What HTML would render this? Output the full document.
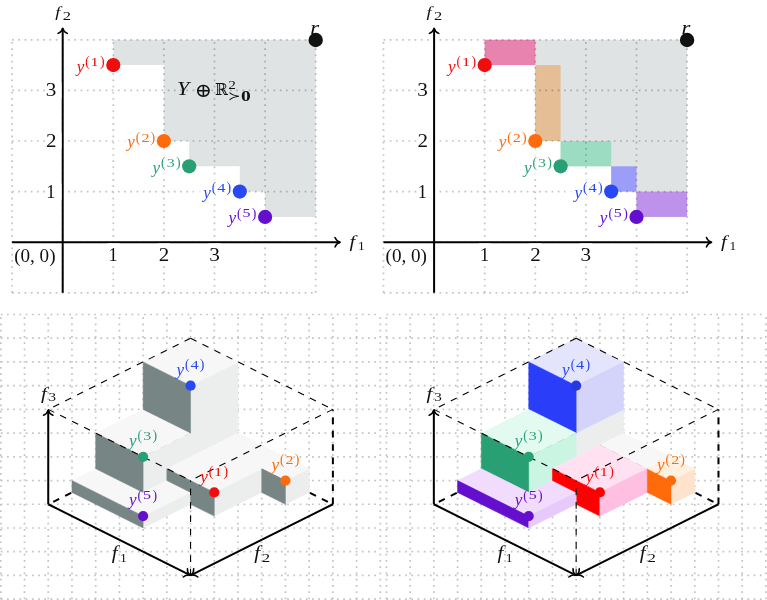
<!DOCTYPE html>
<html lang="en"><head><meta charset="utf-8"><title>Hypervolume contributions</title>
<style>html,body{margin:0;padding:0;background:#fff;overflow:hidden;}svg{display:block;}</style></head>
<body>
<svg width="767" height="600" viewBox="0 0 767 600">
<rect width="767" height="600" fill="#fff"/>
<polygon points="113.30,65.10 113.30,39.80 315.70,39.80 315.70,216.90 265.10,216.90 265.10,191.60 239.80,191.60 239.80,166.30 189.20,166.30 189.20,141.00 163.90,141.00 163.90,65.10" fill="#dfe3e3"/>
<g style="mix-blend-mode:multiply">
<line x1="12.10" y1="292.80" x2="12.10" y2="39.80" stroke="#c3c3c3" stroke-width="1.7" stroke-dasharray="1.7 4.525"/>
<line x1="62.70" y1="292.80" x2="62.70" y2="39.80" stroke="#c3c3c3" stroke-width="1.7" stroke-dasharray="1.7 4.525"/>
<line x1="113.30" y1="292.80" x2="113.30" y2="39.80" stroke="#c3c3c3" stroke-width="1.7" stroke-dasharray="1.7 4.525"/>
<line x1="163.90" y1="292.80" x2="163.90" y2="39.80" stroke="#c3c3c3" stroke-width="1.7" stroke-dasharray="1.7 4.525"/>
<line x1="214.50" y1="292.80" x2="214.50" y2="39.80" stroke="#c3c3c3" stroke-width="1.7" stroke-dasharray="1.7 4.525"/>
<line x1="265.10" y1="292.80" x2="265.10" y2="39.80" stroke="#c3c3c3" stroke-width="1.7" stroke-dasharray="1.7 4.525"/>
<line x1="315.70" y1="292.80" x2="315.70" y2="39.80" stroke="#c3c3c3" stroke-width="1.7" stroke-dasharray="1.7 4.525"/>
<line x1="12.10" y1="292.80" x2="315.70" y2="292.80" stroke="#c3c3c3" stroke-width="1.7" stroke-dasharray="1.7 4.525"/>
<line x1="12.10" y1="242.20" x2="315.70" y2="242.20" stroke="#c3c3c3" stroke-width="1.7" stroke-dasharray="1.7 4.525"/>
<line x1="12.10" y1="191.60" x2="315.70" y2="191.60" stroke="#c3c3c3" stroke-width="1.7" stroke-dasharray="1.7 4.525"/>
<line x1="12.10" y1="141.00" x2="315.70" y2="141.00" stroke="#c3c3c3" stroke-width="1.7" stroke-dasharray="1.7 4.525"/>
<line x1="12.10" y1="90.40" x2="315.70" y2="90.40" stroke="#c3c3c3" stroke-width="1.7" stroke-dasharray="1.7 4.525"/>
<line x1="12.10" y1="39.80" x2="315.70" y2="39.80" stroke="#c3c3c3" stroke-width="1.7" stroke-dasharray="1.7 4.525"/>
</g>
<line x1="12.10" y1="242.20" x2="340.00" y2="242.20" stroke="#000" stroke-width="2"/>
<path d="M -5.20 -4.70 C -4.16 -1.97 -1.82 -0.47 0 0 C -1.82 0.47 -4.16 1.97 -5.20 4.70" transform="translate(340.80 242.20) rotate(0.00) translate(-0.6 0)" fill="none" stroke="#000" stroke-width="1.5" stroke-linecap="round" stroke-linejoin="round"/>
<line x1="62.70" y1="292.80" x2="62.70" y2="28.40" stroke="#000" stroke-width="2"/>
<path d="M -5.20 -4.70 C -4.16 -1.97 -1.82 -0.47 0 0 C -1.82 0.47 -4.16 1.97 -5.20 4.70" transform="translate(62.70 27.60) rotate(-90.00) translate(-0.6 0)" fill="none" stroke="#000" stroke-width="1.5" stroke-linecap="round" stroke-linejoin="round"/>
<text transform="translate(55.19 17.34) scale(1.180 1)" fill="#111" font-family='"Liberation Serif", serif' font-size="15.52" font-style="italic">f</text>
<text transform="translate(62.66 19.80) scale(1.328 1)" fill="#111" font-family='"Liberation Serif", serif' font-size="12.42">2</text>
<text transform="translate(349.62 246.73) scale(1.180 1)" fill="#111" font-family='"Liberation Serif", serif' font-size="17.49" font-style="italic">f</text>
<text transform="translate(358.09 249.60) scale(1.173 1)" fill="#111" font-family='"Liberation Serif", serif' font-size="11.45">1</text>
<rect x="107.30" y="243.40" width="12" height="22" fill="#fff"/>
<rect x="45.70" y="183.60" width="15.8" height="16" fill="#fff"/>
<text transform="translate(108.55 261.20) scale(0.990 1)" fill="#111" font-family='"Liberation Serif", serif' font-size="18.47">1</text>
<text transform="translate(46.30 197.70) scale(0.998 1)" fill="#111" font-family='"Liberation Serif", serif' font-size="18.32">1</text>
<rect x="157.90" y="243.40" width="12" height="22" fill="#fff"/>
<rect x="45.70" y="133.00" width="15.8" height="16" fill="#fff"/>
<text transform="translate(158.86 261.20) scale(1.145 1)" fill="#111" font-family='"Liberation Serif", serif' font-size="18.33">2</text>
<text transform="translate(46.01 147.10) scale(1.155 1)" fill="#111" font-family='"Liberation Serif", serif' font-size="18.18">2</text>
<rect x="208.50" y="243.40" width="12" height="22" fill="#fff"/>
<rect x="45.70" y="82.40" width="15.8" height="16" fill="#fff"/>
<text transform="translate(209.19 261.02) scale(1.175 1)" fill="#111" font-family='"Liberation Serif", serif' font-size="18.06">3</text>
<text transform="translate(45.74 96.32) scale(1.185 1)" fill="#111" font-family='"Liberation Serif", serif' font-size="17.91">3</text>
<text transform="translate(14.14 262.11) scale(1.007 1)" fill="#111" font-family='"Liberation Serif", serif' font-size="19.00">(0, 0)</text>
<rect x="67.30" y="52.60" width="40" height="24.5" rx="2" fill="#fff" fill-opacity="0.65"/>
<circle cx="113.30" cy="65.10" r="7.1" fill="#f00d0d"/>
<g><text transform="translate(76.66 71.51) scale(0.975 1)" fill="#f00d0d" font-family='"Liberation Serif", serif' font-size="17.61" font-style="italic">y</text><text transform="translate(85.20 65.97) scale(0.896 1)" fill="#f00d0d" font-family='"Liberation Serif", serif' font-size="14.89">(</text><text transform="translate(90.49 65.70) scale(1.300 1)" fill="#f00d0d" font-family='"Liberation Serif", serif' font-size="12.52">1</text><text transform="translate(99.98 65.97) scale(0.930 1)" fill="#f00d0d" font-family='"Liberation Serif", serif' font-size="14.89">)</text></g>
<rect x="117.90" y="128.50" width="40" height="24.5" rx="2" fill="#fff" fill-opacity="0.65"/>
<circle cx="163.90" cy="141.00" r="7.1" fill="#ff6a0a"/>
<g><text transform="translate(127.26 147.41) scale(0.975 1)" fill="#ff6a0a" font-family='"Liberation Serif", serif' font-size="17.61" font-style="italic">y</text><text transform="translate(135.80 141.87) scale(0.896 1)" fill="#ff6a0a" font-family='"Liberation Serif", serif' font-size="14.89">(</text><text transform="translate(141.44 141.60) scale(1.300 1)" fill="#ff6a0a" font-family='"Liberation Serif", serif' font-size="12.42">2</text><text transform="translate(150.58 141.87) scale(0.930 1)" fill="#ff6a0a" font-family='"Liberation Serif", serif' font-size="14.89">)</text></g>
<rect x="143.20" y="153.80" width="40" height="24.5" rx="2" fill="#fff" fill-opacity="0.65"/>
<circle cx="189.20" cy="166.30" r="7.1" fill="#28a073"/>
<g><text transform="translate(152.56 172.71) scale(0.975 1)" fill="#28a073" font-family='"Liberation Serif", serif' font-size="17.61" font-style="italic">y</text><text transform="translate(161.10 167.17) scale(0.896 1)" fill="#28a073" font-family='"Liberation Serif", serif' font-size="14.89">(</text><text transform="translate(166.64 166.78) scale(1.300 1)" fill="#28a073" font-family='"Liberation Serif", serif' font-size="12.24">3</text><text transform="translate(175.88 167.17) scale(0.930 1)" fill="#28a073" font-family='"Liberation Serif", serif' font-size="14.89">)</text></g>
<rect x="193.80" y="179.10" width="40" height="24.5" rx="2" fill="#fff" fill-opacity="0.65"/>
<circle cx="239.80" cy="191.60" r="7.1" fill="#2748f2"/>
<g><text transform="translate(203.16 198.01) scale(0.975 1)" fill="#2748f2" font-family='"Liberation Serif", serif' font-size="17.61" font-style="italic">y</text><text transform="translate(211.70 192.47) scale(0.896 1)" fill="#2748f2" font-family='"Liberation Serif", serif' font-size="14.89">(</text><text transform="translate(217.16 192.26) scale(1.300 1)" fill="#2748f2" font-family='"Liberation Serif", serif' font-size="12.62">4</text><text transform="translate(226.48 192.47) scale(0.930 1)" fill="#2748f2" font-family='"Liberation Serif", serif' font-size="14.89">)</text></g>
<rect x="219.10" y="204.40" width="40" height="24.5" rx="2" fill="#fff" fill-opacity="0.65"/>
<circle cx="265.10" cy="216.90" r="7.1" fill="#640fcd"/>
<g><text transform="translate(228.46 223.31) scale(0.975 1)" fill="#640fcd" font-family='"Liberation Serif", serif' font-size="17.61" font-style="italic">y</text><text transform="translate(237.00 217.77) scale(0.896 1)" fill="#640fcd" font-family='"Liberation Serif", serif' font-size="14.89">(</text><text transform="translate(242.43 217.38) scale(1.300 1)" fill="#640fcd" font-family='"Liberation Serif", serif' font-size="12.33">5</text><text transform="translate(251.78 217.77) scale(0.930 1)" fill="#640fcd" font-family='"Liberation Serif", serif' font-size="14.89">)</text></g>
<text transform="translate(310.19 33.59) scale(1.250 1)" fill="#111" font-family='"Liberation Serif", serif' font-size="18.28" font-style="italic">r</text>
<circle cx="315.70" cy="40.00" r="7.2" fill="#111"/>
<text transform="translate(176.88 94.90) scale(1.194 1)" fill="#111" font-family='"Liberation Serif", serif' font-size="18.46" font-style="italic">Y</text>
<text transform="translate(194.83 97.00) scale(1.049 1)" fill="#111" font-family='"DejaVu Serif", "DejaVu Sans", serif' font-size="19.68">⊕</text>
<text transform="translate(215.10 94.90) scale(0.947 1)" fill="#111" font-family='"DejaVu Serif", "DejaVu Sans", serif' font-size="16.44">ℝ</text>
<text transform="translate(228.31 88.50) scale(1.307 1)" fill="#111" font-family='"Liberation Serif", serif' font-size="11.67">2</text>
<text transform="translate(228.02 100.28) scale(1.244 1)" fill="#111" font-family='"DejaVu Serif", "DejaVu Sans", serif' font-size="12.09">≻</text>
<text transform="translate(241.02 100.75) scale(1.318 1)" fill="#111" font-family='"Liberation Serif", serif' font-size="14.81" font-weight="bold">0</text>
<polygon points="484.70,65.10 484.70,39.80 687.10,39.80 687.10,216.90 636.50,216.90 636.50,191.60 611.20,191.60 611.20,166.30 560.60,166.30 560.60,141.00 535.30,141.00 535.30,65.10" fill="#dfe3e3"/>
<rect x="484.70" y="39.80" width="50.60" height="25.30" fill="#e882af"/>
<rect x="535.30" y="65.10" width="25.30" height="75.90" fill="#e5be96"/>
<rect x="560.60" y="141.00" width="50.60" height="25.30" fill="#9bdcc3"/>
<rect x="611.20" y="166.30" width="25.30" height="25.30" fill="#9c9df8"/>
<rect x="636.50" y="191.60" width="50.60" height="25.30" fill="#be91eb"/>
<g style="mix-blend-mode:multiply">
<line x1="383.50" y1="292.80" x2="383.50" y2="39.80" stroke="#c3c3c3" stroke-width="1.7" stroke-dasharray="1.7 4.525"/>
<line x1="434.10" y1="292.80" x2="434.10" y2="39.80" stroke="#c3c3c3" stroke-width="1.7" stroke-dasharray="1.7 4.525"/>
<line x1="484.70" y1="292.80" x2="484.70" y2="39.80" stroke="#c3c3c3" stroke-width="1.7" stroke-dasharray="1.7 4.525"/>
<line x1="535.30" y1="292.80" x2="535.30" y2="39.80" stroke="#c3c3c3" stroke-width="1.7" stroke-dasharray="1.7 4.525"/>
<line x1="585.90" y1="292.80" x2="585.90" y2="39.80" stroke="#c3c3c3" stroke-width="1.7" stroke-dasharray="1.7 4.525"/>
<line x1="636.50" y1="292.80" x2="636.50" y2="39.80" stroke="#c3c3c3" stroke-width="1.7" stroke-dasharray="1.7 4.525"/>
<line x1="687.10" y1="292.80" x2="687.10" y2="39.80" stroke="#c3c3c3" stroke-width="1.7" stroke-dasharray="1.7 4.525"/>
<line x1="383.50" y1="292.80" x2="687.10" y2="292.80" stroke="#c3c3c3" stroke-width="1.7" stroke-dasharray="1.7 4.525"/>
<line x1="383.50" y1="242.20" x2="687.10" y2="242.20" stroke="#c3c3c3" stroke-width="1.7" stroke-dasharray="1.7 4.525"/>
<line x1="383.50" y1="191.60" x2="687.10" y2="191.60" stroke="#c3c3c3" stroke-width="1.7" stroke-dasharray="1.7 4.525"/>
<line x1="383.50" y1="141.00" x2="687.10" y2="141.00" stroke="#c3c3c3" stroke-width="1.7" stroke-dasharray="1.7 4.525"/>
<line x1="383.50" y1="90.40" x2="687.10" y2="90.40" stroke="#c3c3c3" stroke-width="1.7" stroke-dasharray="1.7 4.525"/>
<line x1="383.50" y1="39.80" x2="687.10" y2="39.80" stroke="#c3c3c3" stroke-width="1.7" stroke-dasharray="1.7 4.525"/>
</g>
<line x1="383.50" y1="242.20" x2="711.40" y2="242.20" stroke="#000" stroke-width="2"/>
<path d="M -5.20 -4.70 C -4.16 -1.97 -1.82 -0.47 0 0 C -1.82 0.47 -4.16 1.97 -5.20 4.70" transform="translate(712.20 242.20) rotate(0.00) translate(-0.6 0)" fill="none" stroke="#000" stroke-width="1.5" stroke-linecap="round" stroke-linejoin="round"/>
<line x1="434.10" y1="292.80" x2="434.10" y2="28.40" stroke="#000" stroke-width="2"/>
<path d="M -5.20 -4.70 C -4.16 -1.97 -1.82 -0.47 0 0 C -1.82 0.47 -4.16 1.97 -5.20 4.70" transform="translate(434.10 27.60) rotate(-90.00) translate(-0.6 0)" fill="none" stroke="#000" stroke-width="1.5" stroke-linecap="round" stroke-linejoin="round"/>
<text transform="translate(426.59 17.34) scale(1.180 1)" fill="#111" font-family='"Liberation Serif", serif' font-size="15.52" font-style="italic">f</text>
<text transform="translate(434.06 19.80) scale(1.328 1)" fill="#111" font-family='"Liberation Serif", serif' font-size="12.42">2</text>
<text transform="translate(721.02 246.73) scale(1.180 1)" fill="#111" font-family='"Liberation Serif", serif' font-size="17.49" font-style="italic">f</text>
<text transform="translate(729.49 249.60) scale(1.173 1)" fill="#111" font-family='"Liberation Serif", serif' font-size="11.45">1</text>
<rect x="478.70" y="243.40" width="12" height="22" fill="#fff"/>
<rect x="417.10" y="183.60" width="15.8" height="16" fill="#fff"/>
<text transform="translate(479.95 261.20) scale(0.990 1)" fill="#111" font-family='"Liberation Serif", serif' font-size="18.47">1</text>
<text transform="translate(417.70 197.70) scale(0.998 1)" fill="#111" font-family='"Liberation Serif", serif' font-size="18.32">1</text>
<rect x="529.30" y="243.40" width="12" height="22" fill="#fff"/>
<rect x="417.10" y="133.00" width="15.8" height="16" fill="#fff"/>
<text transform="translate(530.25 261.20) scale(1.145 1)" fill="#111" font-family='"Liberation Serif", serif' font-size="18.33">2</text>
<text transform="translate(417.41 147.10) scale(1.155 1)" fill="#111" font-family='"Liberation Serif", serif' font-size="18.18">2</text>
<rect x="579.90" y="243.40" width="12" height="22" fill="#fff"/>
<rect x="417.10" y="82.40" width="15.8" height="16" fill="#fff"/>
<text transform="translate(580.59 261.02) scale(1.175 1)" fill="#111" font-family='"Liberation Serif", serif' font-size="18.06">3</text>
<text transform="translate(417.14 96.32) scale(1.185 1)" fill="#111" font-family='"Liberation Serif", serif' font-size="17.91">3</text>
<text transform="translate(385.54 262.11) scale(1.007 1)" fill="#111" font-family='"Liberation Serif", serif' font-size="19.00">(0, 0)</text>
<rect x="438.70" y="52.60" width="40" height="24.5" rx="2" fill="#fff" fill-opacity="0.65"/>
<circle cx="484.70" cy="65.10" r="7.1" fill="#f00d0d"/>
<g><text transform="translate(448.06 71.51) scale(0.975 1)" fill="#f00d0d" font-family='"Liberation Serif", serif' font-size="17.61" font-style="italic">y</text><text transform="translate(456.60 65.97) scale(0.896 1)" fill="#f00d0d" font-family='"Liberation Serif", serif' font-size="14.89">(</text><text transform="translate(461.89 65.70) scale(1.300 1)" fill="#f00d0d" font-family='"Liberation Serif", serif' font-size="12.52">1</text><text transform="translate(471.38 65.97) scale(0.930 1)" fill="#f00d0d" font-family='"Liberation Serif", serif' font-size="14.89">)</text></g>
<rect x="489.30" y="128.50" width="40" height="24.5" rx="2" fill="#fff" fill-opacity="0.65"/>
<circle cx="535.30" cy="141.00" r="7.1" fill="#ff6a0a"/>
<g><text transform="translate(498.66 147.41) scale(0.975 1)" fill="#ff6a0a" font-family='"Liberation Serif", serif' font-size="17.61" font-style="italic">y</text><text transform="translate(507.20 141.87) scale(0.896 1)" fill="#ff6a0a" font-family='"Liberation Serif", serif' font-size="14.89">(</text><text transform="translate(512.84 141.60) scale(1.300 1)" fill="#ff6a0a" font-family='"Liberation Serif", serif' font-size="12.42">2</text><text transform="translate(521.98 141.87) scale(0.930 1)" fill="#ff6a0a" font-family='"Liberation Serif", serif' font-size="14.89">)</text></g>
<rect x="514.60" y="153.80" width="40" height="24.5" rx="2" fill="#fff" fill-opacity="0.65"/>
<circle cx="560.60" cy="166.30" r="7.1" fill="#28a073"/>
<g><text transform="translate(523.96 172.71) scale(0.975 1)" fill="#28a073" font-family='"Liberation Serif", serif' font-size="17.61" font-style="italic">y</text><text transform="translate(532.50 167.17) scale(0.896 1)" fill="#28a073" font-family='"Liberation Serif", serif' font-size="14.89">(</text><text transform="translate(538.04 166.78) scale(1.300 1)" fill="#28a073" font-family='"Liberation Serif", serif' font-size="12.24">3</text><text transform="translate(547.28 167.17) scale(0.930 1)" fill="#28a073" font-family='"Liberation Serif", serif' font-size="14.89">)</text></g>
<rect x="565.20" y="179.10" width="40" height="24.5" rx="2" fill="#fff" fill-opacity="0.65"/>
<circle cx="611.20" cy="191.60" r="7.1" fill="#2748f2"/>
<g><text transform="translate(574.56 198.01) scale(0.975 1)" fill="#2748f2" font-family='"Liberation Serif", serif' font-size="17.61" font-style="italic">y</text><text transform="translate(583.10 192.47) scale(0.896 1)" fill="#2748f2" font-family='"Liberation Serif", serif' font-size="14.89">(</text><text transform="translate(588.56 192.26) scale(1.300 1)" fill="#2748f2" font-family='"Liberation Serif", serif' font-size="12.62">4</text><text transform="translate(597.88 192.47) scale(0.930 1)" fill="#2748f2" font-family='"Liberation Serif", serif' font-size="14.89">)</text></g>
<rect x="590.50" y="204.40" width="40" height="24.5" rx="2" fill="#fff" fill-opacity="0.65"/>
<circle cx="636.50" cy="216.90" r="7.1" fill="#640fcd"/>
<g><text transform="translate(599.86 223.31) scale(0.975 1)" fill="#640fcd" font-family='"Liberation Serif", serif' font-size="17.61" font-style="italic">y</text><text transform="translate(608.40 217.77) scale(0.896 1)" fill="#640fcd" font-family='"Liberation Serif", serif' font-size="14.89">(</text><text transform="translate(613.83 217.38) scale(1.300 1)" fill="#640fcd" font-family='"Liberation Serif", serif' font-size="12.33">5</text><text transform="translate(623.18 217.77) scale(0.930 1)" fill="#640fcd" font-family='"Liberation Serif", serif' font-size="14.89">)</text></g>
<text transform="translate(681.59 33.59) scale(1.250 1)" fill="#111" font-family='"Liberation Serif", serif' font-size="18.28" font-style="italic">r</text>
<circle cx="687.10" cy="40.00" r="7.2" fill="#111"/>
<line x1="0.80" y1="599.14" x2="0.80" y2="314.50" stroke="#c3c3c3" stroke-width="1.7" stroke-dasharray="1.7 4.525"/>
<line x1="24.52" y1="599.14" x2="24.52" y2="314.50" stroke="#c3c3c3" stroke-width="1.7" stroke-dasharray="1.7 4.525"/>
<line x1="48.24" y1="599.14" x2="48.24" y2="314.50" stroke="#c3c3c3" stroke-width="1.7" stroke-dasharray="1.7 4.525"/>
<line x1="71.96" y1="599.14" x2="71.96" y2="314.50" stroke="#c3c3c3" stroke-width="1.7" stroke-dasharray="1.7 4.525"/>
<line x1="95.68" y1="599.14" x2="95.68" y2="314.50" stroke="#c3c3c3" stroke-width="1.7" stroke-dasharray="1.7 4.525"/>
<line x1="119.40" y1="599.14" x2="119.40" y2="314.50" stroke="#c3c3c3" stroke-width="1.7" stroke-dasharray="1.7 4.525"/>
<line x1="143.12" y1="599.14" x2="143.12" y2="314.50" stroke="#c3c3c3" stroke-width="1.7" stroke-dasharray="1.7 4.525"/>
<line x1="166.84" y1="599.14" x2="166.84" y2="314.50" stroke="#c3c3c3" stroke-width="1.7" stroke-dasharray="1.7 4.525"/>
<line x1="190.56" y1="599.14" x2="190.56" y2="314.50" stroke="#c3c3c3" stroke-width="1.7" stroke-dasharray="1.7 4.525"/>
<line x1="214.28" y1="599.14" x2="214.28" y2="314.50" stroke="#c3c3c3" stroke-width="1.7" stroke-dasharray="1.7 4.525"/>
<line x1="238.00" y1="599.14" x2="238.00" y2="314.50" stroke="#c3c3c3" stroke-width="1.7" stroke-dasharray="1.7 4.525"/>
<line x1="261.72" y1="599.14" x2="261.72" y2="314.50" stroke="#c3c3c3" stroke-width="1.7" stroke-dasharray="1.7 4.525"/>
<line x1="285.44" y1="599.14" x2="285.44" y2="314.50" stroke="#c3c3c3" stroke-width="1.7" stroke-dasharray="1.7 4.525"/>
<line x1="309.16" y1="599.14" x2="309.16" y2="314.50" stroke="#c3c3c3" stroke-width="1.7" stroke-dasharray="1.7 4.525"/>
<line x1="332.88" y1="599.14" x2="332.88" y2="314.50" stroke="#c3c3c3" stroke-width="1.7" stroke-dasharray="1.7 4.525"/>
<line x1="356.60" y1="599.14" x2="356.60" y2="314.50" stroke="#c3c3c3" stroke-width="1.7" stroke-dasharray="1.7 4.525"/>
<line x1="380.32" y1="599.14" x2="380.32" y2="314.50" stroke="#c3c3c3" stroke-width="1.7" stroke-dasharray="1.7 4.525"/>
<line x1="0.80" y1="314.50" x2="380.32" y2="314.50" stroke="#c3c3c3" stroke-width="1.7" stroke-dasharray="1.7 4.525"/>
<line x1="0.80" y1="338.22" x2="380.32" y2="338.22" stroke="#c3c3c3" stroke-width="1.7" stroke-dasharray="1.7 4.525"/>
<line x1="0.80" y1="361.94" x2="380.32" y2="361.94" stroke="#c3c3c3" stroke-width="1.7" stroke-dasharray="1.7 4.525"/>
<line x1="0.80" y1="385.66" x2="380.32" y2="385.66" stroke="#c3c3c3" stroke-width="1.7" stroke-dasharray="1.7 4.525"/>
<line x1="0.80" y1="409.38" x2="380.32" y2="409.38" stroke="#c3c3c3" stroke-width="1.7" stroke-dasharray="1.7 4.525"/>
<line x1="0.80" y1="433.10" x2="380.32" y2="433.10" stroke="#c3c3c3" stroke-width="1.7" stroke-dasharray="1.7 4.525"/>
<line x1="0.80" y1="456.82" x2="380.32" y2="456.82" stroke="#c3c3c3" stroke-width="1.7" stroke-dasharray="1.7 4.525"/>
<line x1="0.80" y1="480.54" x2="380.32" y2="480.54" stroke="#c3c3c3" stroke-width="1.7" stroke-dasharray="1.7 4.525"/>
<line x1="0.80" y1="504.26" x2="380.32" y2="504.26" stroke="#c3c3c3" stroke-width="1.7" stroke-dasharray="1.7 4.525"/>
<line x1="0.80" y1="527.98" x2="380.32" y2="527.98" stroke="#c3c3c3" stroke-width="1.7" stroke-dasharray="1.7 4.525"/>
<line x1="0.80" y1="551.70" x2="380.32" y2="551.70" stroke="#c3c3c3" stroke-width="1.7" stroke-dasharray="1.7 4.525"/>
<line x1="0.80" y1="575.42" x2="380.32" y2="575.42" stroke="#c3c3c3" stroke-width="1.7" stroke-dasharray="1.7 4.525"/>
<line x1="0.80" y1="599.14" x2="380.32" y2="599.14" stroke="#c3c3c3" stroke-width="1.7" stroke-dasharray="1.7 4.525"/>
<line x1="190.56" y1="433.10" x2="48.24" y2="504.26" stroke="#000" stroke-width="2" stroke-dasharray="6.7 6.65"/>
<line x1="190.56" y1="433.10" x2="332.88" y2="504.26" stroke="#000" stroke-width="2" stroke-dasharray="6.7 6.65"/>
<path d="M285.44 504.26 L309.16 492.40 L309.16 468.68 L285.44 480.54Z M261.72 468.68 L214.28 492.40 L214.28 516.12 L261.72 492.40Z M190.56 433.10 L143.12 456.82 L143.12 492.40 L166.84 480.54 L166.84 468.68 L238.00 433.10 L238.00 361.94 L190.56 385.66Z M190.56 504.26 L190.56 492.40 L143.12 516.12 L143.12 527.98Z" fill="#eceeee" fill-rule="evenodd" stroke="#eceeee" stroke-width="0.5" stroke-linejoin="round"/>
<path d="M166.84 468.68 L214.28 492.40 L261.72 468.68 L285.44 480.54 L309.16 468.68 L238.00 433.10Z M190.56 338.22 L143.12 361.94 L190.56 385.66 L238.00 361.94Z M143.12 409.38 L95.68 433.10 L143.12 456.82 L190.56 433.10Z M143.12 516.12 L190.56 492.40 L166.84 480.54 L143.12 492.40 L95.68 468.68 L71.96 480.54Z" fill="#f7f7f7" fill-rule="evenodd" stroke="#f7f7f7" stroke-width="0.5" stroke-linejoin="round"/>
<path d="M261.72 492.40 L285.44 504.26 L285.44 480.54 L261.72 468.68Z M166.84 480.54 L190.56 492.40 L190.56 504.26 L214.28 516.12 L214.28 492.40 L166.84 468.68Z M143.12 361.94 L143.12 409.38 L190.56 433.10 L190.56 385.66Z M143.12 456.82 L95.68 433.10 L95.68 468.68 L143.12 492.40Z M143.12 516.12 L119.41 504.26 L71.96 480.54 L71.96 492.40 L143.12 527.98Z" fill="#778685" fill-rule="evenodd" stroke="#778685" stroke-width="0.5" stroke-linejoin="round"/>
<line x1="190.56" y1="338.22" x2="48.24" y2="409.38" stroke="#000" stroke-width="1.1" stroke-dasharray="6.7 6.65"/>
<line x1="190.56" y1="338.22" x2="332.88" y2="409.38" stroke="#000" stroke-width="1.1" stroke-dasharray="6.7 6.65"/>
<line x1="332.88" y1="409.38" x2="190.56" y2="480.54" stroke="#000" stroke-width="1.1" stroke-dasharray="6.7 6.65"/>
<line x1="48.24" y1="409.38" x2="190.56" y2="480.54" stroke="#000" stroke-width="1.1" stroke-dasharray="6.7 6.65"/>
<line x1="190.56" y1="575.42" x2="190.56" y2="480.54" stroke="#000" stroke-width="1.1" stroke-dasharray="6.7 6.65"/>
<line x1="332.88" y1="504.26" x2="332.88" y2="409.38" stroke="#000" stroke-width="2" stroke-dasharray="6.7 6.65"/>
<line x1="48.24" y1="504.26" x2="48.24" y2="410.18" stroke="#000" stroke-width="2"/>
<path d="M -5.20 -4.70 C -4.16 -1.97 -1.82 -0.47 0 0 C -1.82 0.47 -4.16 1.97 -5.20 4.70" transform="translate(48.24 409.38) rotate(-90.00) translate(-0.6 0)" fill="none" stroke="#000" stroke-width="1.5" stroke-linecap="round" stroke-linejoin="round"/>
<line x1="48.24" y1="504.26" x2="190.56" y2="575.42" stroke="#000" stroke-width="2"/>
<path d="M -5.20 -4.70 C -4.16 -1.97 -1.82 -0.47 0 0 C -1.82 0.47 -4.16 1.97 -5.20 4.70" transform="translate(190.56 575.42) rotate(26.57) translate(-0.6 0)" fill="none" stroke="#000" stroke-width="1.5" stroke-linecap="round" stroke-linejoin="round"/>
<line x1="332.88" y1="504.26" x2="190.56" y2="575.42" stroke="#000" stroke-width="2"/>
<path d="M -5.20 -4.70 C -4.16 -1.97 -1.82 -0.47 0 0 C -1.82 0.47 -4.16 1.97 -5.20 4.70" transform="translate(190.56 575.42) rotate(153.43) translate(-0.6 0)" fill="none" stroke="#000" stroke-width="1.5" stroke-linecap="round" stroke-linejoin="round"/>
<text transform="translate(40.94 398.58) scale(1.180 1)" fill="#111" font-family='"Liberation Serif", serif' font-size="17.60" font-style="italic">f</text>
<text transform="translate(48.53 401.16) scale(1.299 1)" fill="#111" font-family='"Liberation Serif", serif' font-size="11.64">3</text>
<text transform="translate(111.85 559.30) scale(1.180 1)" fill="#111" font-family='"Liberation Serif", serif' font-size="17.81" font-style="italic">f</text>
<text transform="translate(120.07 562.04) scale(1.095 1)" fill="#111" font-family='"Liberation Serif", serif' font-size="12.52">1</text>
<text transform="translate(254.17 559.30) scale(1.180 1)" fill="#111" font-family='"Liberation Serif", serif' font-size="17.81" font-style="italic">f</text>
<text transform="translate(261.87 562.04) scale(1.348 1)" fill="#111" font-family='"Liberation Serif", serif' font-size="12.42">2</text>
<circle cx="214.28" cy="492.40" r="5.1" fill="#f00d0d"/>
<circle cx="285.44" cy="480.54" r="5.1" fill="#ff6a0a"/>
<circle cx="143.12" cy="456.82" r="5.1" fill="#28a073"/>
<circle cx="190.56" cy="385.66" r="5.1" fill="#2748f2"/>
<circle cx="143.12" cy="516.12" r="5.1" fill="#640fcd"/>
<g><text transform="translate(200.24 481.61) scale(0.975 1)" fill="#f00d0d" font-family='"Liberation Serif", serif' font-size="17.61" font-style="italic">y</text><text transform="translate(208.78 476.07) scale(0.896 1)" fill="#f00d0d" font-family='"Liberation Serif", serif' font-size="14.89">(</text><text transform="translate(214.07 475.80) scale(1.300 1)" fill="#f00d0d" font-family='"Liberation Serif", serif' font-size="12.52">1</text><text transform="translate(223.56 476.07) scale(0.930 1)" fill="#f00d0d" font-family='"Liberation Serif", serif' font-size="14.89">)</text></g>
<g><text transform="translate(271.40 469.75) scale(0.975 1)" fill="#ff6a0a" font-family='"Liberation Serif", serif' font-size="17.61" font-style="italic">y</text><text transform="translate(279.94 464.21) scale(0.896 1)" fill="#ff6a0a" font-family='"Liberation Serif", serif' font-size="14.89">(</text><text transform="translate(285.58 463.94) scale(1.300 1)" fill="#ff6a0a" font-family='"Liberation Serif", serif' font-size="12.42">2</text><text transform="translate(294.72 464.21) scale(0.930 1)" fill="#ff6a0a" font-family='"Liberation Serif", serif' font-size="14.89">)</text></g>
<g><text transform="translate(129.08 446.03) scale(0.975 1)" fill="#28a073" font-family='"Liberation Serif", serif' font-size="17.61" font-style="italic">y</text><text transform="translate(137.62 440.49) scale(0.896 1)" fill="#28a073" font-family='"Liberation Serif", serif' font-size="14.89">(</text><text transform="translate(143.16 440.10) scale(1.300 1)" fill="#28a073" font-family='"Liberation Serif", serif' font-size="12.24">3</text><text transform="translate(152.40 440.49) scale(0.930 1)" fill="#28a073" font-family='"Liberation Serif", serif' font-size="14.89">)</text></g>
<g><text transform="translate(176.52 374.87) scale(0.975 1)" fill="#2748f2" font-family='"Liberation Serif", serif' font-size="17.61" font-style="italic">y</text><text transform="translate(185.06 369.33) scale(0.896 1)" fill="#2748f2" font-family='"Liberation Serif", serif' font-size="14.89">(</text><text transform="translate(190.52 369.12) scale(1.300 1)" fill="#2748f2" font-family='"Liberation Serif", serif' font-size="12.62">4</text><text transform="translate(199.84 369.33) scale(0.930 1)" fill="#2748f2" font-family='"Liberation Serif", serif' font-size="14.89">)</text></g>
<g><text transform="translate(129.08 505.33) scale(0.975 1)" fill="#640fcd" font-family='"Liberation Serif", serif' font-size="17.61" font-style="italic">y</text><text transform="translate(137.62 499.79) scale(0.896 1)" fill="#640fcd" font-family='"Liberation Serif", serif' font-size="14.89">(</text><text transform="translate(143.05 499.40) scale(1.300 1)" fill="#640fcd" font-family='"Liberation Serif", serif' font-size="12.33">5</text><text transform="translate(152.40 499.79) scale(0.930 1)" fill="#640fcd" font-family='"Liberation Serif", serif' font-size="14.89">)</text></g>
<line x1="386.40" y1="599.14" x2="386.40" y2="314.50" stroke="#c3c3c3" stroke-width="1.7" stroke-dasharray="1.7 4.525"/>
<line x1="410.12" y1="599.14" x2="410.12" y2="314.50" stroke="#c3c3c3" stroke-width="1.7" stroke-dasharray="1.7 4.525"/>
<line x1="433.84" y1="599.14" x2="433.84" y2="314.50" stroke="#c3c3c3" stroke-width="1.7" stroke-dasharray="1.7 4.525"/>
<line x1="457.56" y1="599.14" x2="457.56" y2="314.50" stroke="#c3c3c3" stroke-width="1.7" stroke-dasharray="1.7 4.525"/>
<line x1="481.28" y1="599.14" x2="481.28" y2="314.50" stroke="#c3c3c3" stroke-width="1.7" stroke-dasharray="1.7 4.525"/>
<line x1="505.00" y1="599.14" x2="505.00" y2="314.50" stroke="#c3c3c3" stroke-width="1.7" stroke-dasharray="1.7 4.525"/>
<line x1="528.72" y1="599.14" x2="528.72" y2="314.50" stroke="#c3c3c3" stroke-width="1.7" stroke-dasharray="1.7 4.525"/>
<line x1="552.44" y1="599.14" x2="552.44" y2="314.50" stroke="#c3c3c3" stroke-width="1.7" stroke-dasharray="1.7 4.525"/>
<line x1="576.16" y1="599.14" x2="576.16" y2="314.50" stroke="#c3c3c3" stroke-width="1.7" stroke-dasharray="1.7 4.525"/>
<line x1="599.88" y1="599.14" x2="599.88" y2="314.50" stroke="#c3c3c3" stroke-width="1.7" stroke-dasharray="1.7 4.525"/>
<line x1="623.60" y1="599.14" x2="623.60" y2="314.50" stroke="#c3c3c3" stroke-width="1.7" stroke-dasharray="1.7 4.525"/>
<line x1="647.32" y1="599.14" x2="647.32" y2="314.50" stroke="#c3c3c3" stroke-width="1.7" stroke-dasharray="1.7 4.525"/>
<line x1="671.04" y1="599.14" x2="671.04" y2="314.50" stroke="#c3c3c3" stroke-width="1.7" stroke-dasharray="1.7 4.525"/>
<line x1="694.76" y1="599.14" x2="694.76" y2="314.50" stroke="#c3c3c3" stroke-width="1.7" stroke-dasharray="1.7 4.525"/>
<line x1="718.48" y1="599.14" x2="718.48" y2="314.50" stroke="#c3c3c3" stroke-width="1.7" stroke-dasharray="1.7 4.525"/>
<line x1="742.20" y1="599.14" x2="742.20" y2="314.50" stroke="#c3c3c3" stroke-width="1.7" stroke-dasharray="1.7 4.525"/>
<line x1="765.92" y1="599.14" x2="765.92" y2="314.50" stroke="#c3c3c3" stroke-width="1.7" stroke-dasharray="1.7 4.525"/>
<line x1="386.40" y1="314.50" x2="765.92" y2="314.50" stroke="#c3c3c3" stroke-width="1.7" stroke-dasharray="1.7 4.525"/>
<line x1="386.40" y1="338.22" x2="765.92" y2="338.22" stroke="#c3c3c3" stroke-width="1.7" stroke-dasharray="1.7 4.525"/>
<line x1="386.40" y1="361.94" x2="765.92" y2="361.94" stroke="#c3c3c3" stroke-width="1.7" stroke-dasharray="1.7 4.525"/>
<line x1="386.40" y1="385.66" x2="765.92" y2="385.66" stroke="#c3c3c3" stroke-width="1.7" stroke-dasharray="1.7 4.525"/>
<line x1="386.40" y1="409.38" x2="765.92" y2="409.38" stroke="#c3c3c3" stroke-width="1.7" stroke-dasharray="1.7 4.525"/>
<line x1="386.40" y1="433.10" x2="765.92" y2="433.10" stroke="#c3c3c3" stroke-width="1.7" stroke-dasharray="1.7 4.525"/>
<line x1="386.40" y1="456.82" x2="765.92" y2="456.82" stroke="#c3c3c3" stroke-width="1.7" stroke-dasharray="1.7 4.525"/>
<line x1="386.40" y1="480.54" x2="765.92" y2="480.54" stroke="#c3c3c3" stroke-width="1.7" stroke-dasharray="1.7 4.525"/>
<line x1="386.40" y1="504.26" x2="765.92" y2="504.26" stroke="#c3c3c3" stroke-width="1.7" stroke-dasharray="1.7 4.525"/>
<line x1="386.40" y1="527.98" x2="765.92" y2="527.98" stroke="#c3c3c3" stroke-width="1.7" stroke-dasharray="1.7 4.525"/>
<line x1="386.40" y1="551.70" x2="765.92" y2="551.70" stroke="#c3c3c3" stroke-width="1.7" stroke-dasharray="1.7 4.525"/>
<line x1="386.40" y1="575.42" x2="765.92" y2="575.42" stroke="#c3c3c3" stroke-width="1.7" stroke-dasharray="1.7 4.525"/>
<line x1="386.40" y1="599.14" x2="765.92" y2="599.14" stroke="#c3c3c3" stroke-width="1.7" stroke-dasharray="1.7 4.525"/>
<line x1="576.16" y1="433.10" x2="433.84" y2="504.26" stroke="#000" stroke-width="2" stroke-dasharray="6.7 6.65"/>
<line x1="576.16" y1="433.10" x2="718.48" y2="504.26" stroke="#000" stroke-width="2" stroke-dasharray="6.7 6.65"/>
<path d="M623.60 409.38 L576.16 433.10 L576.16 456.82 L623.60 433.10Z" fill="#eceeee" fill-rule="evenodd" stroke="#eceeee" stroke-width="0.5" stroke-linejoin="round"/>
<path d="M576.16 338.22 L528.72 361.94 L576.16 385.66 L623.60 361.94Z" fill="#e4e4fd" fill-rule="evenodd" stroke="#e4e4fd" stroke-width="0.5" stroke-linejoin="round"/>
<path d="M623.60 361.94 L576.16 385.66 L576.16 433.10 L623.60 409.38Z" fill="#d4d4fb" fill-rule="evenodd" stroke="#d4d4fb" stroke-width="0.5" stroke-linejoin="round"/>
<path d="M528.72 409.38 L576.16 433.10 L576.16 385.66 L528.72 361.94Z" fill="#2a3efa" fill-rule="evenodd" stroke="#2a3efa" stroke-width="0.5" stroke-linejoin="round"/>
<path d="M481.28 433.10 L528.72 456.82 L576.16 433.10 L528.72 409.38Z" fill="#e2faf0" fill-rule="evenodd" stroke="#e2faf0" stroke-width="0.5" stroke-linejoin="round"/>
<path d="M576.16 433.10 L528.72 456.82 L528.72 492.40 L552.44 480.54 L552.44 468.68 L576.16 456.82Z" fill="#caf5e3" fill-rule="evenodd" stroke="#caf5e3" stroke-width="0.5" stroke-linejoin="round"/>
<path d="M528.72 456.82 L481.28 433.10 L481.28 468.68 L528.72 492.40Z" fill="#28a073" fill-rule="evenodd" stroke="#28a073" stroke-width="0.5" stroke-linejoin="round"/>
<path d="M457.56 480.54 L528.72 516.12 L576.16 492.40 L552.44 480.54 L528.72 492.40 L481.28 468.68Z" fill="#f1dcfd" fill-rule="evenodd" stroke="#f1dcfd" stroke-width="0.5" stroke-linejoin="round"/>
<path d="M457.56 492.40 L528.72 527.98 L528.72 516.12 L457.56 480.54Z" fill="#640fcd" fill-rule="evenodd" stroke="#640fcd" stroke-width="0.5" stroke-linejoin="round"/>
<path d="M599.88 444.96 L647.32 468.68 L671.04 456.82 L623.60 433.10Z" fill="#f7f7f7" fill-rule="evenodd" stroke="#f7f7f7" stroke-width="0.5" stroke-linejoin="round"/>
<path d="M552.44 468.68 L599.88 492.40 L647.32 468.68 L599.88 444.96Z" fill="#ffe1f1" fill-rule="evenodd" stroke="#ffe1f1" stroke-width="0.5" stroke-linejoin="round"/>
<path d="M576.16 492.40 L576.16 504.26 L599.88 516.12 L599.88 492.40 L552.44 468.68 L552.44 480.54Z" fill="#ff0000" fill-rule="evenodd" stroke="#ff0000" stroke-width="0.5" stroke-linejoin="round"/>
<path d="M576.16 492.40 L528.72 516.12 L528.72 527.98 L576.16 504.26Z" fill="#e7cafb" fill-rule="evenodd" stroke="#e7cafb" stroke-width="0.5" stroke-linejoin="round"/>
<path d="M647.32 468.68 L599.88 492.40 L599.88 516.12 L647.32 492.40Z" fill="#ffbfe1" fill-rule="evenodd" stroke="#ffbfe1" stroke-width="0.5" stroke-linejoin="round"/>
<path d="M694.76 468.68 L671.04 480.54 L671.04 504.26 L694.76 492.40Z" fill="#ffe3cc" fill-rule="evenodd" stroke="#ffe3cc" stroke-width="0.5" stroke-linejoin="round"/>
<path d="M671.04 480.54 L647.32 468.68 L647.32 492.40 L671.04 504.26Z" fill="#ff6a0a" fill-rule="evenodd" stroke="#ff6a0a" stroke-width="0.5" stroke-linejoin="round"/>
<path d="M671.04 456.82 L647.32 468.68 L671.04 480.54 L694.76 468.68Z" fill="#fff0e0" fill-rule="evenodd" stroke="#fff0e0" stroke-width="0.5" stroke-linejoin="round"/>
<line x1="576.16" y1="338.22" x2="433.84" y2="409.38" stroke="#000" stroke-width="1.1" stroke-dasharray="6.7 6.65"/>
<line x1="576.16" y1="338.22" x2="718.48" y2="409.38" stroke="#000" stroke-width="1.1" stroke-dasharray="6.7 6.65"/>
<line x1="718.48" y1="409.38" x2="576.16" y2="480.54" stroke="#000" stroke-width="1.1" stroke-dasharray="6.7 6.65"/>
<line x1="433.84" y1="409.38" x2="576.16" y2="480.54" stroke="#000" stroke-width="1.1" stroke-dasharray="6.7 6.65"/>
<line x1="576.16" y1="575.42" x2="576.16" y2="480.54" stroke="#000" stroke-width="1.1" stroke-dasharray="6.7 6.65"/>
<line x1="718.48" y1="504.26" x2="718.48" y2="409.38" stroke="#000" stroke-width="2" stroke-dasharray="6.7 6.65"/>
<line x1="433.84" y1="504.26" x2="433.84" y2="410.18" stroke="#000" stroke-width="2"/>
<path d="M -5.20 -4.70 C -4.16 -1.97 -1.82 -0.47 0 0 C -1.82 0.47 -4.16 1.97 -5.20 4.70" transform="translate(433.84 409.38) rotate(-90.00) translate(-0.6 0)" fill="none" stroke="#000" stroke-width="1.5" stroke-linecap="round" stroke-linejoin="round"/>
<line x1="433.84" y1="504.26" x2="576.16" y2="575.42" stroke="#000" stroke-width="2"/>
<path d="M -5.20 -4.70 C -4.16 -1.97 -1.82 -0.47 0 0 C -1.82 0.47 -4.16 1.97 -5.20 4.70" transform="translate(576.16 575.42) rotate(26.57) translate(-0.6 0)" fill="none" stroke="#000" stroke-width="1.5" stroke-linecap="round" stroke-linejoin="round"/>
<line x1="718.48" y1="504.26" x2="576.16" y2="575.42" stroke="#000" stroke-width="2"/>
<path d="M -5.20 -4.70 C -4.16 -1.97 -1.82 -0.47 0 0 C -1.82 0.47 -4.16 1.97 -5.20 4.70" transform="translate(576.16 575.42) rotate(153.43) translate(-0.6 0)" fill="none" stroke="#000" stroke-width="1.5" stroke-linecap="round" stroke-linejoin="round"/>
<text transform="translate(426.54 398.58) scale(1.180 1)" fill="#111" font-family='"Liberation Serif", serif' font-size="17.60" font-style="italic">f</text>
<text transform="translate(434.13 401.16) scale(1.299 1)" fill="#111" font-family='"Liberation Serif", serif' font-size="11.64">3</text>
<text transform="translate(497.45 559.30) scale(1.180 1)" fill="#111" font-family='"Liberation Serif", serif' font-size="17.81" font-style="italic">f</text>
<text transform="translate(505.67 562.04) scale(1.095 1)" fill="#111" font-family='"Liberation Serif", serif' font-size="12.52">1</text>
<text transform="translate(639.77 559.30) scale(1.180 1)" fill="#111" font-family='"Liberation Serif", serif' font-size="17.81" font-style="italic">f</text>
<text transform="translate(647.47 562.04) scale(1.348 1)" fill="#111" font-family='"Liberation Serif", serif' font-size="12.42">2</text>
<circle cx="599.88" cy="492.40" r="5.1" fill="#ff0000"/>
<circle cx="671.04" cy="480.54" r="5.1" fill="#ff6a0a"/>
<circle cx="528.72" cy="456.82" r="5.1" fill="#28a073"/>
<circle cx="576.16" cy="385.66" r="5.1" fill="#2638e0"/>
<circle cx="528.72" cy="516.12" r="5.1" fill="#640fcd"/>
<g><text transform="translate(585.84 481.61) scale(0.975 1)" fill="#f00d0d" font-family='"Liberation Serif", serif' font-size="17.61" font-style="italic">y</text><text transform="translate(594.38 476.07) scale(0.896 1)" fill="#f00d0d" font-family='"Liberation Serif", serif' font-size="14.89">(</text><text transform="translate(599.67 475.80) scale(1.300 1)" fill="#f00d0d" font-family='"Liberation Serif", serif' font-size="12.52">1</text><text transform="translate(609.16 476.07) scale(0.930 1)" fill="#f00d0d" font-family='"Liberation Serif", serif' font-size="14.89">)</text></g>
<g><text transform="translate(657.00 469.75) scale(0.975 1)" fill="#ff6a0a" font-family='"Liberation Serif", serif' font-size="17.61" font-style="italic">y</text><text transform="translate(665.54 464.21) scale(0.896 1)" fill="#ff6a0a" font-family='"Liberation Serif", serif' font-size="14.89">(</text><text transform="translate(671.18 463.94) scale(1.300 1)" fill="#ff6a0a" font-family='"Liberation Serif", serif' font-size="12.42">2</text><text transform="translate(680.32 464.21) scale(0.930 1)" fill="#ff6a0a" font-family='"Liberation Serif", serif' font-size="14.89">)</text></g>
<g><text transform="translate(514.68 446.03) scale(0.975 1)" fill="#28a073" font-family='"Liberation Serif", serif' font-size="17.61" font-style="italic">y</text><text transform="translate(523.22 440.49) scale(0.896 1)" fill="#28a073" font-family='"Liberation Serif", serif' font-size="14.89">(</text><text transform="translate(528.76 440.10) scale(1.300 1)" fill="#28a073" font-family='"Liberation Serif", serif' font-size="12.24">3</text><text transform="translate(538.00 440.49) scale(0.930 1)" fill="#28a073" font-family='"Liberation Serif", serif' font-size="14.89">)</text></g>
<g><text transform="translate(562.12 374.87) scale(0.975 1)" fill="#2748f2" font-family='"Liberation Serif", serif' font-size="17.61" font-style="italic">y</text><text transform="translate(570.66 369.33) scale(0.896 1)" fill="#2748f2" font-family='"Liberation Serif", serif' font-size="14.89">(</text><text transform="translate(576.12 369.12) scale(1.300 1)" fill="#2748f2" font-family='"Liberation Serif", serif' font-size="12.62">4</text><text transform="translate(585.44 369.33) scale(0.930 1)" fill="#2748f2" font-family='"Liberation Serif", serif' font-size="14.89">)</text></g>
<g><text transform="translate(514.68 505.33) scale(0.975 1)" fill="#640fcd" font-family='"Liberation Serif", serif' font-size="17.61" font-style="italic">y</text><text transform="translate(523.22 499.79) scale(0.896 1)" fill="#640fcd" font-family='"Liberation Serif", serif' font-size="14.89">(</text><text transform="translate(528.65 499.40) scale(1.300 1)" fill="#640fcd" font-family='"Liberation Serif", serif' font-size="12.33">5</text><text transform="translate(538.00 499.79) scale(0.930 1)" fill="#640fcd" font-family='"Liberation Serif", serif' font-size="14.89">)</text></g>
</svg>
</body></html>
